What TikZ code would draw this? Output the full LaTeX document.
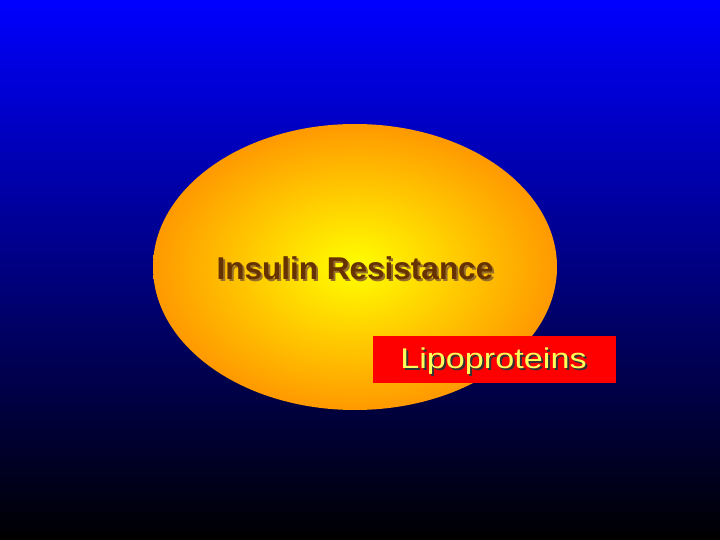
\documentclass[tikz,border=0pt]{standalone}
\usepackage{fontspec}
\setmainfont{Liberation Sans}
\definecolor{bgtop}{RGB}{0,0,255}
\definecolor{bgbot}{RGB}{0,0,0}
\definecolor{ylw}{RGB}{255,255,0}
\definecolor{org}{RGB}{255,153,0}
\definecolor{brn}{RGB}{102,51,0}
\definecolor{brnsh}{RGB}{150,110,40}
\definecolor{boxred}{RGB}{255,0,0}
\definecolor{paleyl}{RGB}{255,255,90}
\tikzset{
  irtext/.style={font=\bfseries\fontsize{31.5}{36}\selectfont, text=brn, inner sep=0pt, anchor=base},
  irshadow/.style={font=\bfseries\fontsize{31.5}{36}\selectfont, text=brnsh, inner sep=0pt, anchor=base},
  lptext/.style={font=\fontsize{28.5}{34}\selectfont, text=paleyl, inner sep=0pt, anchor=base, xscale=1.2},
  lpshadow/.style={font=\fontsize{28.5}{34}\selectfont, text=black!80, inner sep=0pt, anchor=base, xscale=1.2},
}
\begin{document}
\begin{tikzpicture}[x=1pt,y=-1pt]
\useasboundingbox (0,0) rectangle (720,540);
\shade[top color=bgtop, bottom color=bgbot] (0,0) rectangle (720,540);
\shade[inner color=ylw, outer color=org] (355,267) ellipse [x radius=202, y radius=143];
\node (ellipse) at (355,267) {};
\node[irshadow] (irs) at (357,281) {Insulin Resistance};
\node[irtext] (ir) at (355,279) {Insulin Resistance};
\node[fill=boxred, minimum width=243, minimum height=47, inner sep=0pt] (box) at (494.5,359.5) {};
\node[lpshadow] (lps) at (495.5,370) {Lipoproteins};
\node[lptext] (lp) at (493.5,368) {Lipoproteins};
\end{tikzpicture}
\end{document}
